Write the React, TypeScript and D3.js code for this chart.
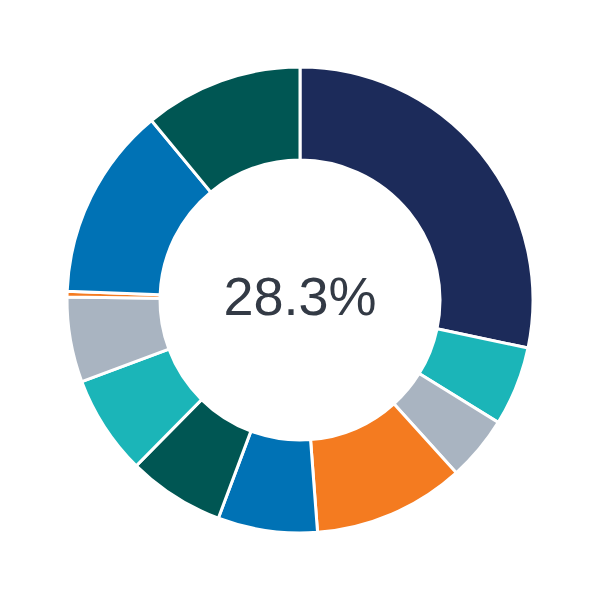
import React from "react";
import * as d3 from "d3";

const categories = ["A", "B", "C", "D", "E", "F", "G", "H", "I", "J", "K"];
const values = [28.3, 5.5, 4.5, 10.5, 6.9, 6.7, 6.9, 5.9, 0.4, 13.4, 11.0];
const colors = ["#1c2b5a", "#1bb5b8", "#a9b4c1", "#f47b20", "#0072b5", "#005653", "#1bb5b8", "#a9b4c1", "#f47b20", "#0072b5", "#005653"];
const centerLabel = "28.3%";

export default function App() {
  const width = 600, height = 600;
  const cx = 300, cy = 300;
  const pie = d3.pie<number>().value((d) => d).sort(null);
  const arcs = pie(values);
  const arc = d3.arc<d3.PieArcDatum<number>>().innerRadius(140).outerRadius(233);
  return (
    <svg width={width} height={height} style={{ position: "absolute", left: 0, top: 0 }}>
      <rect width={width} height={height} fill="#fff" />
      <g transform={`translate(${cx},${cy})`}>
        {arcs.map((a, i) => (
          <path key={categories[i]} d={arc(a) || ""} fill={colors[i]} stroke="#fff" strokeWidth={3} />
        ))}
        <text x={0} y={15} textAnchor="middle" fontFamily="Liberation Sans, Arial, sans-serif" fontSize={54} fill="#333a45">
          {centerLabel}
        </text>
      </g>
    </svg>
  );
}
